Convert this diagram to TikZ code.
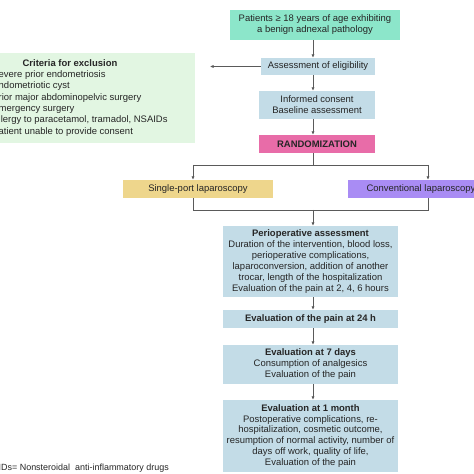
\documentclass[tikz,border=0pt]{standalone}
\usepackage{fontspec}
\setmainfont{Liberation Sans}
\usepackage{tikz}
\usetikzlibrary{arrows.meta,positioning,calc}
\definecolor{boxteal}{HTML}{8CE6CA}
\definecolor{boxblue}{HTML}{C3DCE7}
\definecolor{boxgreen}{HTML}{E2F6E2}
\definecolor{boxpink}{HTML}{E86CA8}
\definecolor{boxyellow}{HTML}{EED68C}
\definecolor{boxpurple}{HTML}{A98CF4}
\definecolor{lncol}{HTML}{5A5A5A}
\tikzset{
  flownode/.style={fill=boxblue, align=center, inner sep=1pt, text=black!85, font=\fontsize{9.5}{11}\selectfont},
  armnode/.style={flownode, minimum width=150bp, minimum height=18bp},
  evalnode/.style={flownode, minimum width=175bp},
  flowln/.style={draw=lncol, line width=0.7bp},
  flowarr/.style={flowln, -{Latex[length=3.5bp,width=3.2bp]}}
}

\begin{document}
\begin{tikzpicture}[x=1bp, y=-1bp]
\useasboundingbox (0,0) rectangle (474,474);
% spine and branch points
\coordinate (spine) at (313,0);
\coordinate (exclin) at (210,66.5);
\coordinate (brl) at (193,165);
\coordinate (brr) at (428,165);
\coordinate (jnl) at (193,210);
\coordinate (jnr) at (428,210);

\node[flownode, fill=boxteal, minimum width=170bp, minimum height=30bp] (pat) at (315,25) {Patients ≥ 18 years of age exhibiting\\a benign adnexal pathology};
\node[flownode, minimum width=114bp, minimum height=17bp] (elig) at (318,66.5) {Assessment of eligibility};
\node[flownode, minimum width=116bp, minimum height=28bp] (cons) at (317,105) {Informed consent\\Baseline assessment};
\node[flownode, fill=boxpink, minimum width=116bp, minimum height=18bp] (rand) at (317,144) {\textbf{RANDOMIZATION}};
\node[flownode, fill=boxgreen, minimum width=250bp, minimum height=90bp, font=\fontsize{9.5}{11.3}\selectfont] (excl) at (70,98)
  {\begin{tabular}{@{\hspace{20bp}}l@{}}
   \multicolumn{1}{@{}c@{}}{\textbf{Criteria for exclusion}}\\
   Severe prior endometriosis\\
   Endometriotic cyst\\
   Prior major abdominopelvic surgery\\
   Emergency surgery\\
   Allergy to paracetamol, tramadol, NSAIDs\\
   Patient unable to provide consent
   \end{tabular}};

\node[armnode, fill=boxyellow] (single) at (198,189) {Single-port laparoscopy};
\node[armnode, fill=boxpurple, minimum width=146bp] (conv) at (421,189) {Conventional laparoscopy};

\node[evalnode, minimum height=71bp] (periop) at (310.5,261.5) {\textbf{Perioperative assessment}\\Duration of the intervention, blood loss,\\perioperative complications,\\laparoconversion, addition of another\\trocar, length of the hospitalization\\Evaluation of the pain at 2, 4, 6 hours};
\node[evalnode, minimum height=18bp] (eval24) at (310.5,319) {\textbf{Evaluation of the pain at 24 h}};
\node[evalnode, minimum height=39bp] (eval7) at (310.5,364.5) {\textbf{Evaluation at 7 days}\\Consumption of analgesics\\Evaluation of the pain};
\node[evalnode, minimum height=72bp] (eval1m) at (310.5,436) {\textbf{Evaluation at 1 month}\\Postoperative complications, re-\\hospitalization, cosmetic outcome,\\resumption of normal activity, number of\\days off work, quality of life,\\Evaluation of the pain};

\node[anchor=west, inner sep=0pt, text=black!85, font=\fontsize{9}{10}\selectfont] (note) at (-20,468) {NSAIDs= Nonsteroidal\ \ anti-inflammatory drugs};

% connectors
\draw[flowarr] (pat.south -| spine) -- (elig.north -| spine);
\draw[flowarr] (elig.west) -- (exclin);
\draw[flowarr] (elig.south -| spine) -- (cons.north -| spine);
\draw[flowarr] (cons.south -| spine) -- (rand.north -| spine);
\draw[flowln] (rand.south -| spine) -- (spine |- brl);
\draw[flowln] (brl) -- (brr);
\draw[flowarr] (brl) -- (brl |- single.north);
\draw[flowarr] (brr) -- (brr |- conv.north);
\draw[flowln] (single.south -| jnl) -- (jnl) -- (jnr) -- (conv.south -| jnr);
\draw[flowarr] (jnl -| spine) -- (periop.north -| spine);
\draw[flowarr] (periop.south -| spine) -- (eval24.north -| spine);
\draw[flowarr] (eval24.south -| spine) -- (eval7.north -| spine);
\draw[flowarr] (eval7.south -| spine) -- (eval1m.north -| spine);
\end{tikzpicture}
\end{document}
